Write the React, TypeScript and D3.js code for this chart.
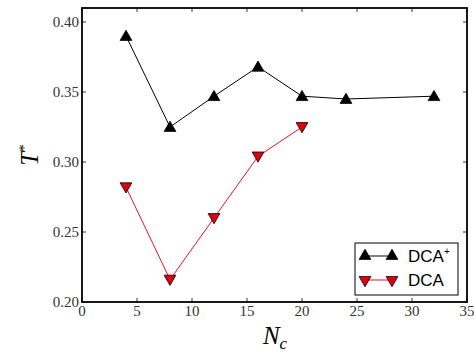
import React from "react";
import * as d3 from "d3";

const dcaPlusX = [4, 8, 12, 16, 20, 24, 32];
const dcaPlusY = [0.39, 0.325, 0.347, 0.368, 0.347, 0.345, 0.347];
const dcaX = [4, 8, 12, 16, 20];
const dcaY = [0.282, 0.216, 0.26, 0.304, 0.325];
const xTicks = [0, 5, 10, 15, 20, 25, 30, 35];
const yTicks = [0.2, 0.25, 0.3, 0.35, 0.4];

const W = 474, H = 355;
const L = 82, R = 467, T = 8, B = 302;
const SERIF = "'Liberation Serif','Times New Roman',Times,serif";

export default function App() {
  const x = d3.scaleLinear().domain([0, 35]).range([L, R]);
  const y = d3.scaleLinear().domain([0.2, 0.41]).range([B, T]);
  const line = d3.line<[number, number]>().x(d => x(d[0])).y(d => y(d[1]));
  const up = d3.symbol().type(d3.symbolTriangle).size(60)();
  const tri = (cx: number, cy: number, down: boolean, fill: string, key: string) => (
    <path key={key} d={up as string} transform={`translate(${cx},${cy})${down ? " rotate(180)" : ""}`} fill={fill} stroke="#000" strokeWidth={0.8} />
  );
  const plusPts = dcaPlusX.map((v, i) => [v, dcaPlusY[i]] as [number, number]);
  const dcaPts = dcaX.map((v, i) => [v, dcaY[i]] as [number, number]);
  return (
    <svg width={W} height={H} style={{ position: "absolute", left: 0, top: 0 }}>
      <rect width={W} height={H} fill="#fff" />
      {xTicks.map(t => (
        <g key={"xt" + t}>
          <line x1={x(t)} x2={x(t)} y1={B} y2={B - 4} stroke="#000" strokeWidth={0.8} />
          <line x1={x(t)} x2={x(t)} y1={T} y2={T + 4} stroke="#000" strokeWidth={0.8} />
          <text x={x(t)} y={B + 14} textAnchor="middle" fontFamily={SERIF} fontSize={15} fill="#333">{t}</text>
        </g>
      ))}
      {yTicks.map(t => (
        <g key={"yt" + t}>
          <line x1={L} x2={L + 4} y1={y(t)} y2={y(t)} stroke="#000" strokeWidth={0.8} />
          <line x1={R} x2={R - 4} y1={y(t)} y2={y(t)} stroke="#000" strokeWidth={0.8} />
          <text x={L - 3} y={y(t) + 5} textAnchor="end" fontFamily={SERIF} fontSize={15} fill="#333">{t.toFixed(2)}</text>
        </g>
      ))}
      <path d={line(plusPts) as string} fill="none" stroke="#000" strokeWidth={1} />
      <path d={line(dcaPts) as string} fill="none" stroke="#e8141c" strokeWidth={1} />
      {plusPts.map((p, i) => tri(x(p[0]), y(p[1]) + 1, false, "#000", "p" + i))}
      {dcaPts.map((p, i) => tri(x(p[0]), y(p[1]) - 1, true, "#e00010", "d" + i))}
      <rect x={L} y={T} width={R - L} height={B - T} fill="none" stroke="#000" strokeWidth={1.8} />
      <g>
        <rect x={355} y={243} width={103} height={52} fill="#fff" stroke="#000" strokeWidth={1} />
        <line x1={365} x2={392} y1={256} y2={256} stroke="#000" strokeWidth={1} />
        {tri(365, 256, false, "#000", "l1")}
        {tri(392, 256, false, "#000", "l2")}
        <line x1={365} x2={392} y1={280} y2={280} stroke="#e8141c" strokeWidth={1} />
        {tri(365, 280, true, "#e00010", "l3")}
        {tri(392, 280, true, "#e00010", "l4")}
        <text x={408} y={262} fontFamily="'Liberation Sans',Arial,sans-serif" fontSize={17} fill="#000">DCA<tspan dy={-7} fontSize={10}>+</tspan></text>
        <text x={408} y={286} fontFamily="'Liberation Sans',Arial,sans-serif" fontSize={17} fill="#000">DCA</text>
      </g>
      <text x={275} y={344} textAnchor="middle" fontFamily={SERIF} fontStyle="italic" fontSize={25} fill="#000">N<tspan dy={5} fontSize={17}>c</tspan></text>
      <text transform={`translate(38,${(T + B) / 2}) rotate(-90)`} textAnchor="middle" fontFamily={SERIF} fontStyle="italic" fontSize={25} fill="#000">T<tspan dy={-9} fontSize={15} fontStyle="normal">*</tspan></text>
    </svg>
  );
}
